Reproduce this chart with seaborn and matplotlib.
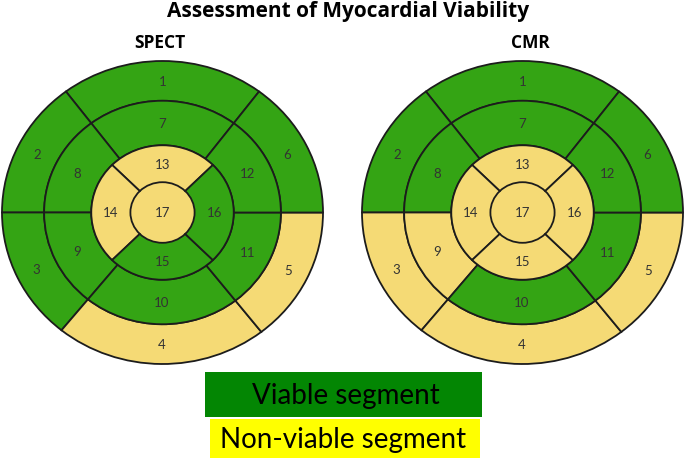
import numpy as np
import matplotlib
matplotlib.use("Agg")
import matplotlib.pyplot as plt
import seaborn as sns
from matplotlib.patches import Rectangle

# AHA 17-segment model, V = viable, N = non-viable
segments = list(range(1, 18))
spect_status = ['V', 'V', 'V', 'N', 'N', 'V',
                'V', 'V', 'V', 'V', 'V', 'V',
                'N', 'N', 'V', 'V',
                'N']
cmr_status = ['V', 'V', 'N', 'N', 'N', 'V',
              'V', 'V', 'N', 'V', 'V', 'V',
              'N', 'N', 'N', 'N',
              'N']
legend_labels = ['Viable segment', 'Non-viable segment']

# geometry of the bullseye (degrees, radii)
basal_spans = [(53, 127), (127, 180), (180, 231), (231, 308), (308, 360), (0, 53)]
apical_spans = [(45, 135), (135, 225), (225, 315), (315, 405)]
radii = [0, 32, 71, 118, 160]

seg_colors = {'V': '#34a414', 'N': '#f5da75'}
edge = '#1c1c1c'

sns.set_theme(style="white")
plt.rcParams['font.family'] = ['Lato', 'DejaVu Sans']

W, H = 685, 460
fig = plt.figure(figsize=(6.85, 4.6), dpi=100)


def seg_geometry(seg):
    # returns (theta start, theta end, r inner, r outer)
    if seg <= 6:
        a, b = basal_spans[seg - 1]
        return a, b, radii[3], radii[4]
    if seg <= 12:
        a, b = basal_spans[seg - 7]
        return a, b, radii[2], radii[3]
    if seg <= 16:
        a, b = apical_spans[seg - 13]
        return a, b, radii[1], radii[2]
    return 0, 360, radii[0], radii[1]


def bullseye(x0, status, title, title_x):
    # axes box in pixels: x0..x0+321, y 62..365 from the top
    ax = fig.add_axes([x0 / W, 1 - 365 / H, 321 / W, 303 / H], projection='polar')
    ax.set_aspect('auto')
    for seg, st in zip(segments, status):
        a, b, r0, r1 = seg_geometry(seg)
        lw = 0 if seg == 17 else 1.3
        bars = ax.bar(np.deg2rad((a + b) / 2), r1 - r0, width=np.deg2rad(b - a), bottom=r0,
                      color=seg_colors[st], edgecolor=edge, linewidth=lw, align='center',
                      zorder=1 if seg == 17 else 2)
        for p in bars:
            p.set_clip_on(False)
        tm = 0 if seg == 17 else (a + b) / 2
        rm = 0 if seg == 17 else (r0 + r1) / 2
        ax.text(np.deg2rad(tm), rm, str(seg), ha='center', va='center',
                fontsize=9.5, color='#333333', zorder=3)
    ax.set_ylim(0, radii[-1])
    ax.axis('off')
    fig.text(title_x / W, 1 - 43 / H, title, ha='center', va='center',
             fontsize=12.5, fontweight='bold', color='black', family=['Open Sans', 'DejaVu Sans'])


bullseye(2, spect_status, 'SPECT', 160)
bullseye(362, cmr_status, 'CMR', 530)

fig.text(348 / W, 1 - 12 / H, 'Assessment of Myocardial Viability', ha='center', va='center',
         fontsize=15, fontweight='bold', color='black', family=['Open Sans', 'DejaVu Sans'])

# legend boxes
fig.add_artist(Rectangle((205 / W, 1 - 418 / H), 277 / W, 45 / H, transform=fig.transFigure,
                         facecolor='#038603', edgecolor='none'))
fig.add_artist(Rectangle((210 / W, 1 - 459 / H), 270 / W, 39 / H, transform=fig.transFigure,
                         facecolor='#ffff00', edgecolor='none'))
fig.text(346 / W, 1 - 396 / H, legend_labels[0], ha='center', va='center', fontsize=20, color='black')
fig.text(343 / W, 1 - 440 / H, legend_labels[1], ha='center', va='center', fontsize=20, color='black')

fig.savefig('out.png', dpi=100)
